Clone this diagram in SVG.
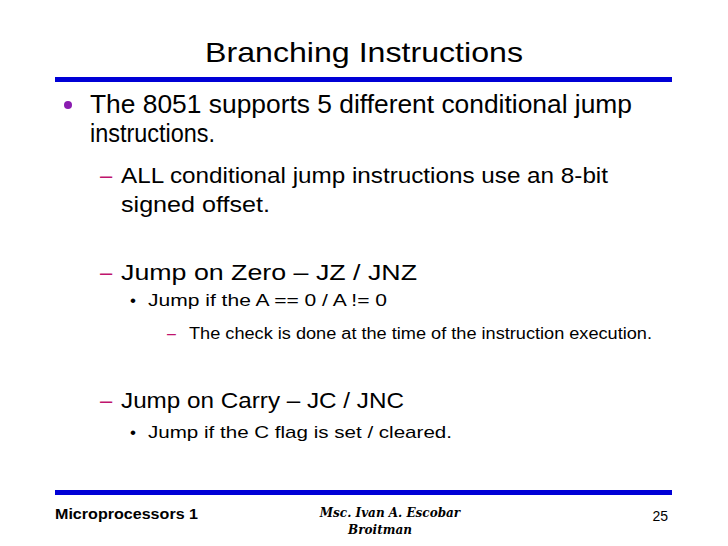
<svg xmlns="http://www.w3.org/2000/svg" width="728" height="546" viewBox="0 0 728 546">
<style>
text{font-family:"Liberation Sans",Arial,sans-serif;fill:#000}
.l1{font-size:25px}.l2{font-size:22px}.l3{font-size:17px}.l4{font-size:16px}
.dash{fill:#c0146e}.dot{fill:#8a1cb0}
</style>
<rect width="728" height="546" fill="#fff"/>
<text x="364" y="62" text-anchor="middle" font-size="28" textLength="318" lengthAdjust="spacingAndGlyphs">Branching Instructions</text>
<rect x="55" y="77" width="617" height="5" fill="#0000d6"/>
<circle cx="68" cy="105" r="4" class="dot"/>
<text class="l1" x="90" y="113" textLength="542" lengthAdjust="spacingAndGlyphs">The 8051 supports 5 different conditional jump</text>
<text class="l1" x="90" y="142" textLength="125" lengthAdjust="spacingAndGlyphs">instructions.</text>
<text class="l2 dash" x="100" y="183">–</text>
<text class="l2" x="121" y="183" textLength="487" lengthAdjust="spacingAndGlyphs">ALL conditional jump instructions use an 8-bit</text>
<text class="l2" x="121" y="212" textLength="149" lengthAdjust="spacingAndGlyphs">signed offset.</text>
<text class="l2 dash" x="100" y="280">–</text>
<text class="l2" x="121" y="280" textLength="296" lengthAdjust="spacingAndGlyphs">Jump on Zero – JZ / JNZ</text>
<text class="l3" x="130" y="306">•</text>
<text class="l3" x="148" y="306" textLength="239" lengthAdjust="spacingAndGlyphs">Jump if the A == 0 / A != 0</text>
<text class="l4 dash" x="167" y="339">–</text>
<text class="l4" x="189" y="339" textLength="463" lengthAdjust="spacingAndGlyphs">The check is done at the time of the instruction execution.</text>
<text class="l2 dash" x="100" y="408">–</text>
<text class="l2" x="121" y="408" textLength="283" lengthAdjust="spacingAndGlyphs">Jump on Carry – JC / JNC</text>
<text class="l3" x="130" y="438">•</text>
<text class="l3" x="148" y="438" textLength="304" lengthAdjust="spacingAndGlyphs">Jump if the C flag is set / cleared.</text>
<rect x="55" y="490" width="617" height="5" fill="#0000d6"/>
<text x="55" y="519" font-size="15.5" font-weight="bold" textLength="143" lengthAdjust="spacingAndGlyphs">Microprocessors 1</text>
<text x="390" y="517" font-size="12" font-style="italic" font-weight="bold" text-anchor="middle" style="font-family:'DejaVu Serif',serif">Msc. Ivan A. Escobar</text>
<text x="380" y="534" font-size="12" font-style="italic" font-weight="bold" text-anchor="middle" style="font-family:'DejaVu Serif',serif">Broitman</text>
<text x="668" y="521" font-size="14" text-anchor="end">25</text>
</svg>
